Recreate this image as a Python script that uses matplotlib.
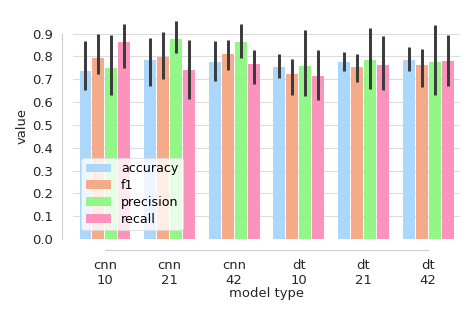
import numpy as np
import matplotlib
matplotlib.use("Agg")
import matplotlib.pyplot as plt

groups = ["cnn\n10", "cnn\n21", "cnn\n42", "dt\n10", "dt\n21", "dt\n42"]
metrics = ["accuracy", "f1", "precision", "recall"]
colors = ["#aad7fb", "#f5aa8a", "#92f787", "#fc93bc"]

# bar heights per metric, one per group
accuracy = [0.736, 0.783, 0.774, 0.754, 0.777, 0.783]
f1 = [0.795, 0.798, 0.810, 0.721, 0.755, 0.761]
precision = [0.751, 0.878, 0.861, 0.758, 0.783, 0.774]
recall = [0.861, 0.739, 0.767, 0.715, 0.762, 0.779]

# confidence interval ends (low, high)
accuracy_ci = [(0.655, 0.866), (0.671, 0.882), (0.692, 0.866), (0.707, 0.810), (0.736, 0.820), (0.736, 0.842)]
f1_ci = [(0.721, 0.900), (0.699, 0.907), (0.740, 0.872), (0.633, 0.789), (0.689, 0.810), (0.667, 0.832)]
precision_ci = [(0.630, 0.892), (0.817, 0.954), (0.795, 0.942), (0.625, 0.917), (0.659, 0.923), (0.630, 0.937)]
recall_ci = [(0.748, 0.944), (0.615, 0.870), (0.681, 0.827), (0.611, 0.827), (0.652, 0.888), (0.671, 0.895)]

values = [accuracy, f1, precision, recall]
cis = [accuracy_ci, f1_ci, precision_ci, recall_ci]

fig = plt.figure(figsize=(6, 4), dpi=79)
ax = fig.add_axes([0.153, 0.2437, 0.8185, 0.715])

x = np.arange(len(groups))
n = len(metrics)
width = 0.8 / n
for i, (name, vals, ci, c) in enumerate(zip(metrics, values, cis, colors)):
    pos = x - 0.4 + width * (i + 0.5)
    ax.bar(pos, vals, width=width * 0.92, color=c, label=name, zorder=2)
    lo = [v - a for v, (a, b) in zip(vals, ci)]
    hi = [b - v for v, (a, b) in zip(vals, ci)]
    ax.errorbar(pos, vals, yerr=[lo, hi], fmt="none", ecolor="#3b3b3b",
                elinewidth=2.7, capsize=0, zorder=3)

ax.set_xlim(-0.5, len(groups) - 0.5)
ax.set_ylim(0, 0.99)
ax.set_yticks(np.arange(0, 0.91, 0.1))
ax.set_yticklabels([f"{t:.1f}" for t in np.arange(0, 0.91, 0.1)])
ax.set_xticks(x)
ax.set_xticklabels(groups)

ax.grid(axis="y", color="#dcdcdc", linewidth=1.0, zorder=0)
ax.set_axisbelow(True)
for s in ["top", "right"]:
    ax.spines[s].set_visible(False)
for s in ["left", "bottom"]:
    ax.spines[s].set_color("#cccccc")
    ax.spines[s].set_linewidth(1.0)
    ax.spines[s].set_position(("outward", 10))
ax.spines["left"].set_bounds(0, 0.9)
ax.spines["bottom"].set_bounds(0, len(groups) - 1)
ax.tick_params(axis="both", length=0, labelsize=12, colors="#262626")
ax.tick_params(axis="y", pad=8)
ax.tick_params(axis="x", pad=8)

ax.set_xlabel("model type", fontsize=12, color="#262626", labelpad=0)
ax.set_ylabel("value", fontsize=12, color="#262626", labelpad=3)

leg = ax.legend(loc="lower left", fontsize=11.5, frameon=True, framealpha=0.8,
                edgecolor="#dddddd", borderaxespad=0.7, handlelength=2.0,
                labelspacing=0.3, borderpad=0.35, handletextpad=0.8)

fig.savefig("out.png", dpi=79)
